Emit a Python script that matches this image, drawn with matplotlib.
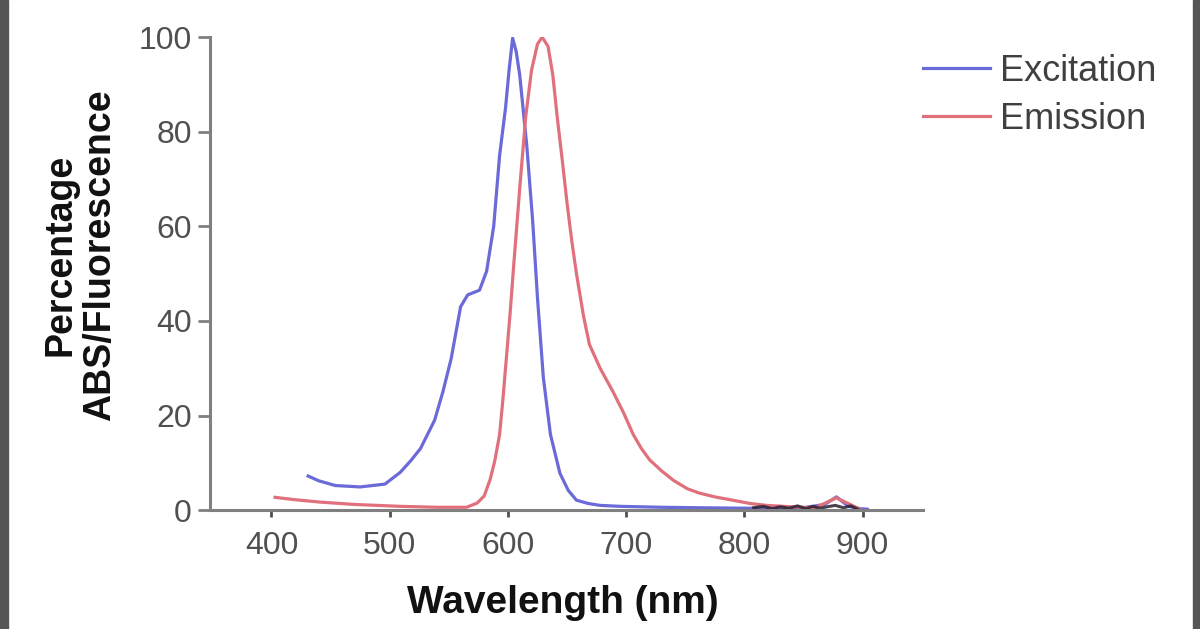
import matplotlib
matplotlib.use("Agg")
import matplotlib.pyplot as plt
from matplotlib.patches import Rectangle
import numpy as np

plt.rcParams['font.family'] = ['Liberation Sans', 'DejaVu Sans']

# excitation (blue)
ex_nm = [431, 440, 454, 475, 496, 509, 518, 526, 538, 545, 552, 560, 566, 576, 582,
         588, 593, 598, 601, 604, 607, 610, 616, 621, 625, 630, 636, 644, 651, 658,
         668, 678, 695, 730, 762, 800, 830, 850, 868, 878, 888, 898, 904]
ex_val = [7.2, 6.2, 5.2, 4.9, 5.5, 8.0, 10.5, 13.0, 19.0, 25.0, 32.0, 43.0, 45.5, 46.5, 50.5,
          60.0, 75.0, 85.0, 93.0, 99.8, 97.0, 92.0, 77.0, 61.0, 45.0, 28.0, 16.0, 7.8, 4.2, 2.1,
          1.4, 1.0, 0.8, 0.6, 0.5, 0.4, 0.4, 0.5, 1.2, 2.8, 0.8, 0.3, 0.2]

# emission (red)
em_nm = [403, 420, 441, 470, 509, 540, 565, 574, 580, 585, 589, 593, 596, 599, 602,
         605, 610, 615, 620, 625, 629, 634, 638, 642, 646, 650, 654, 658, 664,
         669, 678, 689, 698, 706, 713, 720, 730, 740, 752, 762, 775, 790, 805, 819,
         840, 860, 878, 897]
em_val = [2.7, 2.2, 1.7, 1.2, 0.8, 0.6, 0.6, 1.5, 3.0, 6.5, 10.5, 16.0, 24.0, 33.0, 42.0,
          52.0, 68.0, 83.0, 93.0, 98.5, 100.0, 98.0, 92.0, 82.5, 74.0, 65.0, 57.0, 50.0, 41.0,
          35.0, 30.0, 25.0, 20.5, 16.0, 13.0, 10.6, 8.3, 6.3, 4.5, 3.6, 2.8, 2.1, 1.4, 1.0,
          0.7, 0.5, 2.6, 0.3]

# dark noisy tail near the axis
tail_nm = [808, 816, 824, 830, 838, 845, 852, 858, 864, 870, 877, 884, 890, 896, 902]
tail_val = [0.5, 0.8, 0.3, 0.7, 0.4, 0.9, 0.3, 0.8, 0.4, 0.7, 1.0, 0.5, 0.9, 0.2, -0.9]

xticks = [400, 500, 600, 700, 800, 900]
yticks = [0, 20, 40, 60, 80, 100]

fig = plt.figure(figsize=(12, 6.29), dpi=100)
ax = fig.add_axes([0.175, 0.189, 0.594, 0.752])

ax.plot(ex_nm, ex_val, color='#6a6ad8', lw=2.3, label='Excitation')
ax.plot(em_nm, em_val, color='#e0707c', lw=2.3, label='Emission')
ax.plot(tail_nm, tail_val, color='#2a2030', lw=2.2, alpha=0.85)

ax.set_xlim(348, 951)
ax.set_ylim(0, 100)
ax.set_xticks(xticks)
ax.set_yticks(yticks)

for s in ['top', 'right']:
    ax.spines[s].set_visible(False)
for s in ['left', 'bottom']:
    ax.spines[s].set_color('#808080')
    ax.spines[s].set_linewidth(2.2)
ax.spines['left'].set_bounds(0, 100)

ax.tick_params(axis='y', length=9, width=2, color='#808080', labelsize=23,
               labelcolor='#505050', pad=4)
ax.tick_params(axis='x', length=5, width=2, color='#505050', labelsize=23,
               labelcolor='#505050', pad=10)
ax.patch.set_visible(False)

ax.set_xlabel('Wavelength (nm)', fontsize=28, fontweight='bold', color='#111111')
ax.xaxis.label.set_va('center')
ax.xaxis.set_label_coords(0.495, -0.197)
ax.set_ylabel('Percentage\nABS/Fluorescence', fontsize=27, fontweight='bold',
              color='#111111', linespacing=1.1)
ax.yaxis.label.set_va('center')
ax.yaxis.set_label_coords(-0.182, 0.539)

fig.legend(loc='upper left', bbox_to_anchor=(0.757, 0.937), frameon=False,
           fontsize=26, handlelength=1.85, handletextpad=0.3, labelspacing=0.35,
           labelcolor='#404040', borderaxespad=0)

# dark frame edges at left and right
fig.patches.append(Rectangle((0, 0), 0.007, 1, transform=fig.transFigure,
                             color='#555555', zorder=0))
fig.patches.append(Rectangle((0.994, 0), 0.006, 1, transform=fig.transFigure,
                             color='#555555', zorder=0))

fig.savefig('out.png', dpi=100)
